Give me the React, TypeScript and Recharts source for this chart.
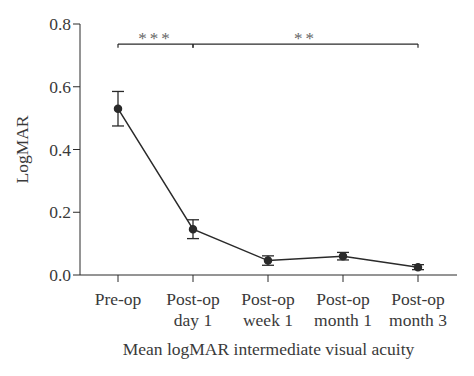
import { LineChart, Line, XAxis, YAxis, ErrorBar, ReferenceLine } from 'recharts'

const categories = ['Pre-op', 'Post-op\nday 1', 'Post-op\nweek 1', 'Post-op\nmonth 1', 'Post-op\nmonth 3']
const means = [0.53, 0.146, 0.046, 0.06, 0.025]
const errors = [0.055, 0.03, 0.015, 0.012, 0.008]
const yTicks = [0, 0.2, 0.4, 0.6, 0.8]

// significance brackets: [from, to, label]
const brackets: [number, number, string][] = [
  [0, 1, '***'],
  [1, 4, '**'],
]
const bracketY = 0.736
const bracketDrop = 0.012

const data = categories.map((name, i) => ({ name, mean: means[i], err: errors[i] }))

const FONT = '"Liberation Serif", "DejaVu Serif", serif'
const FS = 17.5
const TEXT = '#3a3a3a'
const INK = '#2a2a2a'

const CategoryTick = (props: any) => {
  const { x, y, payload } = props
  const lines = String(payload.value).split('\n')
  return (
    <text x={x} y={y + 21} textAnchor="middle" fill={TEXT} fontFamily={FONT} fontSize={FS}>
      {lines.map((l, i) => (
        <tspan key={i} x={x} dy={i === 0 ? 0 : 21}>
          {l}
        </tspan>
      ))}
    </text>
  )
}

export default function App() {
  return (
    <div style={{ position: 'absolute', left: 0, top: 0, background: '#fff' }}>
      <LineChart
        width={474}
        height={376}
        data={data}
        margin={{ top: 24, right: 17, bottom: 21, left: 0 }}
      >
        <XAxis
          dataKey="name"
          interval={0}
          padding={{ left: 38, right: 39 }}
          height={80}
          stroke={INK}
          tickSize={7}
          tick={<CategoryTick />}
          label={{
            value: 'Mean logMAR intermediate visual acuity',
            position: 'insideBottom',
            offset: 0,
            fill: TEXT,
            fontFamily: FONT,
            fontSize: FS,
          }}
        />
        <YAxis
          width={80}
          domain={[0, 0.8]}
          ticks={yTicks}
          tickFormatter={(v: number) => v.toFixed(1)}
          stroke={INK}
          tickSize={7}
          tick={{ fill: TEXT, fontFamily: FONT, fontSize: FS }}
          label={{
            value: 'LogMAR',
            angle: -90,
            position: 'insideLeft',
            offset: 22,
            fill: TEXT,
            fontFamily: FONT,
            fontSize: FS,
            style: { textAnchor: 'middle' },
          }}
        />
        {brackets.map(([a, b, text]) => (
          <ReferenceLine
            key={`b-${a}`}
            segment={[
              { x: categories[a], y: bracketY },
              { x: categories[b], y: bracketY },
            ]}
            stroke={INK}
            strokeWidth={1.2}
            label={{
              value: text,
              position: 'top',
              fill: '#666',
              fontFamily: FONT,
              fontSize: 17,
              letterSpacing: 3,
              offset: 0,
            }}
          />
        ))}
        {brackets.flatMap(([a, b]) =>
          [a, b].map((c) => (
            <ReferenceLine
              key={`t-${a}-${c}`}
              segment={[
                { x: categories[c], y: bracketY },
                { x: categories[c], y: bracketY - bracketDrop },
              ]}
              stroke={INK}
              strokeWidth={1.2}
            />
          ))
        )}
        <Line
          dataKey="mean"
          stroke={INK}
          strokeWidth={1.5}
          dot={{ r: 3.5, fill: INK, stroke: INK }}
          isAnimationActive={false}
        >
          <ErrorBar dataKey="err" width={6} stroke={INK} strokeWidth={1.3} />
        </Line>
      </LineChart>
    </div>
  )
}
